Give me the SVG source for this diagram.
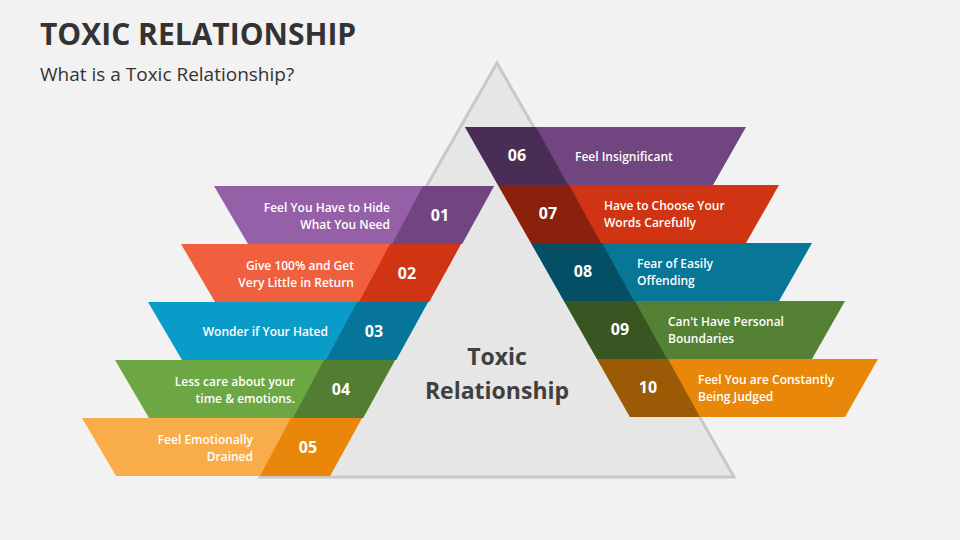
<svg xmlns="http://www.w3.org/2000/svg" width="960" height="540" viewBox="0 0 960 540">
<style>
.t{font-family:"Open Sans","Liberation Sans",sans-serif;font-size:12px;font-weight:600;fill:#fff}
.n{font-family:"Open Sans","Liberation Sans",sans-serif;font-size:16px;font-weight:700;fill:#fff;text-anchor:middle}
.r{text-anchor:end}
</style>
<rect width="960" height="540" fill="#f2f2f2"/>
<text x="40" y="45" font-family="'Open Sans','Liberation Sans',sans-serif" font-size="30" font-weight="700" fill="#333">TOXIC RELATIONSHIP</text>
<text x="40" y="81" font-family="'Open Sans','Liberation Sans',sans-serif" font-size="19" fill="#333">What is a Toxic Relationship?</text>
<g id="triangle">
<polygon points="497,63 734,477 260,477" fill="#e6e6e6" stroke="#c8c8c8" stroke-width="3"/>
<text x="497" y="365" text-anchor="middle" font-family="'Open Sans','Liberation Sans',sans-serif" font-size="23" font-weight="700" fill="#404040">Toxic</text>
<text x="497" y="399" text-anchor="middle" font-family="'Open Sans','Liberation Sans',sans-serif" font-size="23" font-weight="700" fill="#404040">Relationship</text>
</g>
<g id="n01" transform="translate(0,0)">
<polygon points="214,186 494,186 462,244 248,244" fill="#9660A8"/>
<polygon points="423,186 494,186 462,244 392,244" fill="#71457F"/>
<text class="t r" x="390" y="212">Feel You Have to Hide</text><text class="t r" x="390" y="229">What You Need</text>
<text class="n" x="440" y="221">01</text>
</g>
<g id="n02" transform="translate(-33,58)">
<polygon points="214,186 494,186 462,244 248,244" fill="#F0603F"/>
<polygon points="423,186 494,186 462,244 392,244" fill="#D03412"/>
<text class="t r" x="387" y="212">Give 100% and Get</text><text class="t r" x="387" y="229">Very Little in Return</text>
<text class="n" x="440" y="221">02</text>
</g>
<g id="n03" transform="translate(-66,116)">
<polygon points="214,186 494,186 462,244 248,244" fill="#0A9CC9"/>
<polygon points="423,186 494,186 462,244 392,244" fill="#07749A"/>
<text class="t r" x="394" y="220">Wonder if Your Hated</text>
<text class="n" x="440" y="221">03</text>
</g>
<g id="n04" transform="translate(-99,174)">
<polygon points="214,186 494,186 462,244 248,244" fill="#6CA743"/>
<polygon points="423,186 494,186 462,244 392,244" fill="#527D33"/>
<text class="t r" x="394" y="212">Less care about your</text><text class="t r" x="394" y="229">time &amp; emotions.</text>
<text class="n" x="440" y="221">04</text>
</g>
<g id="n05" transform="translate(-132,232)">
<polygon points="214,186 494,186 462,244 248,244" fill="#F8AD4A"/>
<polygon points="423,186 494,186 462,244 392,244" fill="#E8870A"/>
<text class="t r" x="385" y="212">Feel Emotionally</text><text class="t r" x="385" y="229">Drained</text>
<text class="n" x="440" y="221">05</text>
</g>
<g id="n06" transform="translate(0,0)">
<polygon points="465,127 746,127 713,185 498,185" fill="#704580"/>
<polygon points="465,127 536,127 568,185 498,185" fill="#4A2D55"/>
<text class="t" x="575" y="161">Feel Insignificant</text>
<text class="n" x="517" y="161">06</text>
</g>
<g id="n07" transform="translate(33,58)">
<polygon points="465,127 746,127 713,185 498,185" fill="#D03412"/>
<polygon points="465,127 536,127 568,185 498,185" fill="#8B200D"/>
<text class="t" x="571" y="152">Have to Choose Your</text><text class="t" x="571" y="169">Words Carefully</text>
<text class="n" x="515" y="161">07</text>
</g>
<g id="n08" transform="translate(66,116)">
<polygon points="465,127 746,127 713,185 498,185" fill="#087697"/>
<polygon points="465,127 536,127 568,185 498,185" fill="#054F66"/>
<text class="t" x="571" y="152">Fear of Easily</text><text class="t" x="571" y="169">Offending</text>
<text class="n" x="517" y="161">08</text>
</g>
<g id="n09" transform="translate(99,174)">
<polygon points="465,127 746,127 713,185 498,185" fill="#548134"/>
<polygon points="465,127 536,127 568,185 498,185" fill="#385621"/>
<text class="t" x="569" y="152">Can't Have Personal</text><text class="t" x="569" y="169">Boundaries</text>
<text class="n" x="521" y="161">09</text>
</g>
<g id="n10" transform="translate(132,232)">
<polygon points="465,127 746,127 713,185 498,185" fill="#E8870A"/>
<polygon points="465,127 536,127 568,185 498,185" fill="#9B5B06"/>
<text class="t" x="566" y="152">Feel You are Constantly</text><text class="t" x="566" y="169">Being Judged</text>
<text class="n" x="516" y="161">10</text>
</g>
<g id="connectors"/>
</svg>
